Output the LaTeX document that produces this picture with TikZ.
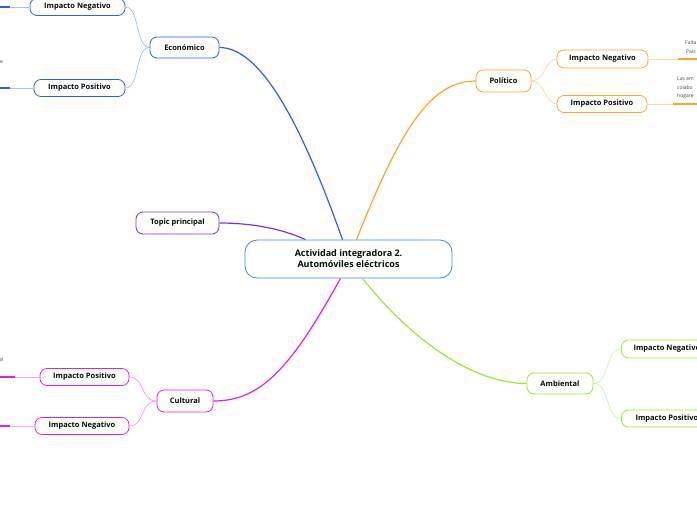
\documentclass[tikz,border=0pt]{standalone}
\usepackage{fontspec}
\setmainfont{Open Sans}
\usetikzlibrary{backgrounds}
\begin{document}
\begin{tikzpicture}[x=1pt,y=-1pt,
  box/.style={draw,rounded corners=7pt,fill=white,line width=0.8pt,font=\fontsize{7.5}{9}\selectfont\bfseries,text=black!80!green!30!black,inner sep=0pt},
  main/.style={line width=1.2pt},
  sub/.style={line width=0.6pt},
  leaf/.style={line width=1.5pt},
  tiny/.style={font=\fontsize{5}{6.5}\selectfont,text=black!75,inner sep=0pt,anchor=west}]
\useasboundingbox (0,0) rectangle (697,520);
\clip (0,0) rectangle (697,520);
\definecolor{colB}{HTML}{2A5CFF}\definecolor{colO}{HTML}{FFA424}\definecolor{colP}{HTML}{7A2FF0}
\definecolor{colM}{HTML}{E020E0}\definecolor{colL}{HTML}{9AE830}\definecolor{colC}{HTML}{3D8FD0}
% nodes
\node[box,draw=colC,minimum width=207pt,minimum height=38pt,rounded corners=12pt,align=center,font=\fontsize{9}{11}\selectfont\bfseries] (c) at (348.5,259) {Actividad integradora 2.\\Automóviles eléctricos};
\node[box,draw=colB,minimum width=69pt,minimum height=21pt] (eco) at (184.5,47.5) {Económico};
\node[box,draw=colB,minimum width=95pt,minimum height=17pt] (en) at (77.5,7) {Impacto Negativo};
\node[box,draw=colB,minimum width=91pt,minimum height=17pt] (ep) at (79.5,88) {Impacto Positivo};
\node[box,draw=colO,minimum width=55pt,minimum height=22pt] (pol) at (503.5,81) {Político};
\node[box,draw=colO,minimum width=91pt,minimum height=18pt] (pn) at (602.5,59) {Impacto Negativo};
\node[box,draw=colO,minimum width=90pt,minimum height=17pt] (pp) at (602,104) {Impacto Positivo};
\node[box,draw=colP,minimum width=83pt,minimum height=22pt] (top) at (177.5,223) {Topic principal};
\node[box,draw=colM,minimum width=56pt,minimum height=22pt] (cul) at (185,401) {Cultural};
\node[box,draw=colM,minimum width=89pt,minimum height=17pt] (cpo) at (84.5,377) {Impacto Positivo};
\node[box,draw=colM,minimum width=94pt,minimum height=17pt] (cne) at (82,426) {Impacto Negativo};
\node[box,draw=colL,minimum width=66pt,minimum height=21pt] (amb) at (560,383.5) {Ambiental};
\node[box,draw=colL,minimum width=92pt,minimum height=18pt,anchor=west,align=left] (an) at (621,349) {\hspace{9pt}Impacto Negativo\hspace{10pt}};
\node[box,draw=colL,minimum width=92pt,minimum height=17pt,anchor=west,align=left] (ap) at (621,418.5) {\hspace{9pt}Impacto Positivo\hspace{10pt}};
\begin{scope}[on background layer]
% main connectors
\draw[main,draw=colB] ([xshift=-6pt]c.north) .. controls (300,120) and (260,47.5) .. (eco.east);
\draw[main,draw=colO] ([xshift=8pt]c.north) .. controls (400,130) and (430,81) .. (pol.west);
\draw[main,draw=colP] ([xshift=-43pt]c.north) .. controls (280,228) and (250,223) .. (top.east);
\draw[main,draw=colM] ([xshift=-8pt]c.south) .. controls (290,370) and (260,401) .. (cul.east);
\draw[main,draw=colL] ([xshift=14pt]c.south) .. controls (420,350) and (480,383.5) .. (amb.west);
% sub connectors
\draw[sub,draw=colB!50] (eco.west) .. controls (135,47) and (140,7) .. (en.east);
\draw[sub,draw=colB!50] (eco.west) .. controls (135,47) and (140,88) .. (ep.east);
\draw[sub,draw=colO!50] (pol.east) .. controls (545,81) and (545,59) .. (pn.west);
\draw[sub,draw=colO!50] (pol.east) .. controls (545,81) and (545,104) .. (pp.west);
\draw[sub,draw=colM!50] (cul.west) .. controls (140,401) and (145,377) .. (cpo.east);
\draw[sub,draw=colM!50] (cul.west) .. controls (140,401) and (145,426) .. (cne.east);
\draw[sub,draw=colL!50] (amb.east) .. controls (610,383) and (605,349) .. (an.west);
\draw[sub,draw=colL!50] (amb.east) .. controls (610,383) and (605,418) .. (ap.west);
\end{scope}
% leaf lines
\coordinate (l1) at (0,7); \coordinate (l2) at (0,88);
\coordinate (l3) at (0,377); \coordinate (l4) at (0,426);
\coordinate (r1) at (697,59); \coordinate (r2) at (697,104);
\coordinate (l1e) at (10,7); \coordinate (l2e) at (10,88);
\coordinate (l3e) at (15,377); \coordinate (l4e) at (10,426);
\coordinate (r1e) at (678,59); \coordinate (r2e) at (673,104);
\draw[sub,draw=colB!40] (en.west) -- (l1); \draw[leaf,draw=colB] (l1) -- (l1e);
\draw[sub,draw=colB!40] (ep.west) -- (l2); \draw[leaf,draw=colB] (l2) -- (l2e);
\draw[sub,draw=colM!40] (cpo.west) -- (l3); \draw[leaf,draw=colM] (l3) -- (l3e);
\draw[sub,draw=colM!40] (cne.west) -- (l4); \draw[leaf,draw=colM] (l4) -- (l4e);
\draw[sub,draw=colO!40] (pn.east) -- (r1); \draw[leaf,draw=colO] (r1) -- (r1e);
\draw[sub,draw=colO!40] (pp.east) -- (r2); \draw[leaf,draw=colO] (r2) -- (r2e);
% clipped texts
\node[tiny] (t1) at (0,62) {e};
\node[tiny] (t2) at (-2,351) {s};
\node[tiny] (t3) at (-4,359.5) {del};
\node[tiny] (t4) at (-2,416) {l};
\node[tiny] (t5) at (685,43) {Falta};
\node[tiny] (t6) at (686,52) {País};
\node[tiny] (t7) at (677,79) {Las em};
\node[tiny] (t8) at (677,87.5) {colabo};
\node[tiny] (t9) at (677,96) {hogare};
\end{tikzpicture}
\end{document}
